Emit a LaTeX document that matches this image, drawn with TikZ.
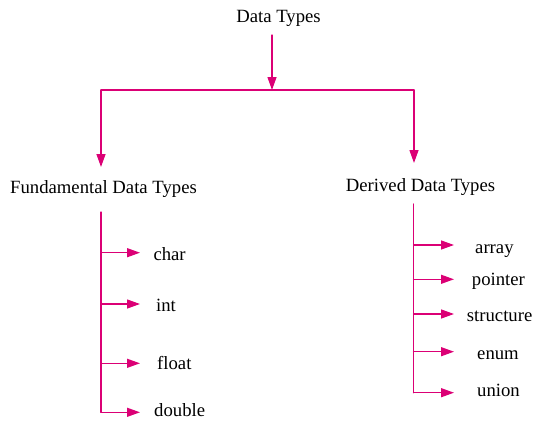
\documentclass[tikz,border=0pt]{standalone}
\usepackage{fontspec}
\setmainfont{Liberation Serif}
\usetikzlibrary{arrows.meta}

\begin{document}
\begin{tikzpicture}[line cap=round,line join=round,>={Triangle[length=13pt,width=9pt]},x=1pt,y=-1pt,
  every node/.style={inner sep=0pt,font=\fontsize{18.7}{22}\selectfont},
  link/.style={line width=1.3pt,color=dbqqtt}]
\definecolor{dbqqtt}{rgb}{0.86,0.,0.46}
\useasboundingbox (0,0) rectangle (541,431);
% headings
\node [anchor=base] (dt) at (278.5,22) {Data Types};
\node [anchor=base] (fdt) at (103.5,193) {Fundamental Data Types};
\node [anchor=base] (ddt) at (420.5,191) {Derived Data Types};
% fundamental types
\node [anchor=base west] (char) at (153.3,260) {char};
\node [anchor=base west] (int) at (156,311.7) {int};
\node [anchor=base west] (float) at (157,369.3) {float};
\node [anchor=base west] (double) at (154,416.7) {double};
% derived types
\node [anchor=base west] (array) at (475,253.3) {array};
\node [anchor=base west] (pointer) at (471.7,285) {pointer};
\node [anchor=base west] (structure) at (466.7,321.7) {structure};
\node [anchor=base west] (enum) at (477,359) {enum};
\node [anchor=base west] (union) at (477,396.7) {union};
% split points and arrow tips
\coordinate (dtout) at (272,35);
\coordinate (split) at (272,90);
\coordinate (fsplit) at (101,90);
\coordinate (dsplit) at (414,90);
\coordinate (fin) at (101,167);
\coordinate (din) at (414,163);
\coordinate (ftrunk) at (101,212);
\coordinate (dtrunk) at (413.5,204);
\coordinate (chartip) at (140,252.7);
\coordinate (inttip) at (140,304);
\coordinate (floattip) at (140,363.3);
\coordinate (doubletip) at (140,412.3);
\coordinate (arraytip) at (454,245);
\coordinate (pointertip) at (454,279.3);
\coordinate (structuretip) at (454,314);
\coordinate (enumtip) at (454,351.7);
\coordinate (uniontip) at (454,392.7);
% top level
\draw [link,->] (dtout)-- (split);
\draw [link] (fsplit)-- (dsplit);
\draw [link,->] (fsplit)-- (fin);
\draw [link,->] (dsplit)-- (din);
% trunks
\draw [link] (ftrunk)-- (ftrunk |- doubletip);
\draw [link] (dtrunk)-- (dtrunk |- uniontip);
% branches
\draw [link,->] (ftrunk |- chartip)-- (chartip);
\draw [link,->] (ftrunk |- inttip)-- (inttip);
\draw [link,->] (ftrunk |- floattip)-- (floattip);
\draw [link,->] (ftrunk |- doubletip)-- (doubletip);
\draw [link,->] (dtrunk |- arraytip)-- (arraytip);
\draw [link,->] (dtrunk |- pointertip)-- (pointertip);
\draw [link,->] (dtrunk |- structuretip)-- (structuretip);
\draw [link,->] (dtrunk |- enumtip)-- (enumtip);
\draw [link,->] (dtrunk |- uniontip)-- (uniontip);
\end{tikzpicture}
\end{document}
